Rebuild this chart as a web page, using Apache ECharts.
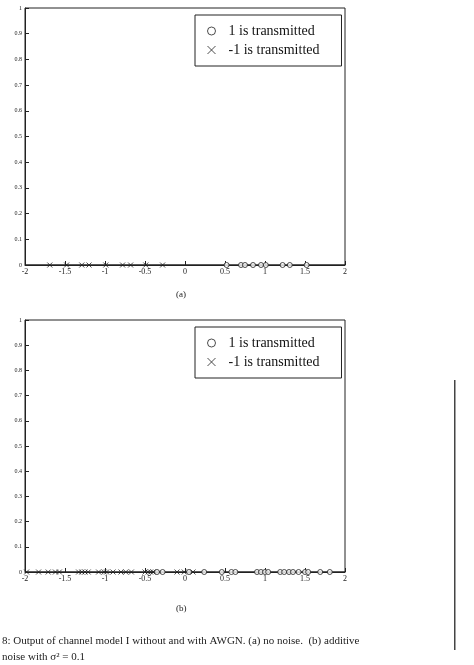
<!DOCTYPE html><html><head><meta charset="utf-8"><script src="https://cdn.jsdelivr.net/npm/echarts@6/dist/echarts.min.js"></script></head><body style="margin:0;background:#fff"><div id="c" style="width:474px;height:665px"></div><script>
const crossA=[-1.69,-1.48,-1.29,-1.2,-0.99,-0.78,-0.68,-0.49,-0.28];
const circA=[0.52,0.70,0.75,0.85,0.95,1.01,1.22,1.31,1.52];
const crossB=[-1.98,-1.83,-1.71,-1.62,-1.57,-1.33,-1.29,-1.25,-1.21,-1.08,-1.01,-0.98,-0.9,-0.8,-0.74,-0.67,-0.5,-0.46,-0.43,-0.4,-0.1,-0.01,0.1];
const circB=[-0.35,-0.28,0.05,0.24,0.46,0.58,0.63,0.9,0.95,1.0,1.04,1.19,1.24,1.3,1.35,1.42,1.5,1.54,1.69,1.81];
const F='Liberation Serif';
function xa(i){return{gridIndex:i,type:'value',min:-2,max:2,interval:0.5,axisLine:{onZero:false,lineStyle:{color:'#222'}},axisTick:{inside:true,length:4,lineStyle:{color:'#222'}},splitLine:{show:false},axisLabel:{fontSize:8,fontFamily:F,color:'#222',margin:3}};}
function ya(i){return{gridIndex:i,type:'value',min:0,max:1,interval:0.1,axisLine:{onZero:false,lineStyle:{color:'#222'}},axisTick:{inside:true,length:4,lineStyle:{color:'#222'}},splitLine:{show:false},axisLabel:{fontSize:6,fontFamily:F,color:'#222',margin:3}};}
const cross='path://M0,0L10,10M10,0L0,10';
function s(data,sym,i,name){return{type:'scatter',name,xAxisIndex:i,yAxisIndex:i,data:data.map(v=>[v,0]),symbol:sym,symbolSize:5,itemStyle:{color:'#fff',borderColor:'#222',borderWidth:1},z:5};}
function line(i){return{type:'line',xAxisIndex:i,yAxisIndex:i,data:[[-2,0],[2,0]],symbol:'none',lineStyle:{color:'#222',width:1},silent:true};}
function leg(top){return{top,left:195,orient:'vertical',borderColor:'#222',borderWidth:1,padding:[9,22,9,12],itemGap:5,itemWidth:12,itemHeight:8,textStyle:{fontFamily:F,fontSize:14,color:'#111',padding:[0,0,0,6]},data:[{name:'1 is transmitted',icon:'circle',itemStyle:{color:'#fff',borderColor:'#222',borderWidth:1}},{name:'-1 is transmitted',icon:cross,itemStyle:{color:'#222',borderColor:'#222',borderWidth:1}}]};}
const ch=echarts.init(document.getElementById('c'));
ch.setOption({animation:false,
grid:[{left:25,width:320,top:8,height:257,show:true,borderColor:'#222',borderWidth:1},{left:25,width:320,top:320,height:252,show:true,borderColor:'#222',borderWidth:1}],
xAxis:[xa(0),xa(1)],yAxis:[ya(0),ya(1)],
legend:[leg(15),leg(327)],
series:[line(0),line(1),s(circA,'circle',0,'1 is transmitted'),s(crossA,cross,0,'-1 is transmitted'),s(circB,'circle',1,'1 is transmitted'),s(crossB,cross,1,'-1 is transmitted')],
graphic:[
{type:'text',left:176,top:290,style:{text:'(a)',font:'9px "Liberation Serif"',fill:'#222'}},
{type:'text',left:176,top:604,style:{text:'(b)',font:'9px "Liberation Serif"',fill:'#222'}},
{type:'text',left:2,top:633,style:{text:'8: Output of channel model I without and with AWGN. (a) no noise.  (b) additive\nnoise with σ² = 0.1',font:'11px "Liberation Serif"',fill:'#222',lineHeight:16}},
{type:'rect',shape:{x:454,y:380,width:1.5,height:270},style:{fill:'#444'}}
]});
</script></body></html>
